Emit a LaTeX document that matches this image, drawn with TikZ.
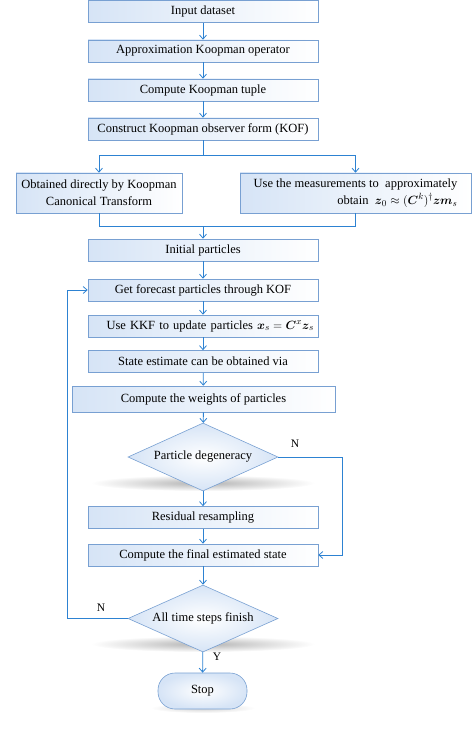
\documentclass[tikz,border=0pt]{standalone}
\usepackage{amsmath,amssymb}
\usepackage{fontspec}
\setmainfont{Liberation Serif}
\usetikzlibrary{shapes.geometric,arrows.meta}
\definecolor{boxline}{RGB}{120,160,210}
\definecolor{boxfill}{RGB}{214,228,246}
\definecolor{flowline}{RGB}{45,130,210}
\tikzset{
  stepbox/.style={draw=boxline, line width=0.6pt, left color=boxfill, right color=white,
    minimum width=230pt, minimum height=22pt, inner sep=2pt, font=\fontsize{12.5}{16}\selectfont},
  testbox/.style={diamond, aspect=2.2, draw=boxline, line width=0.6pt, inner color=white, outer color=boxfill,
    minimum width=150pt, minimum height=68pt, inner sep=0pt, font=\fontsize{12.5}{14.5}\selectfont},
  flow/.style={draw=flowline, line width=0.8pt},
  flowarrow/.style={flow, -{Straight Barb[length=4pt,width=7pt]}},
}
\begin{document}
\begin{tikzpicture}[x=1pt,y=-1pt]
                \useasboundingbox (0,0) rectangle (474,735);
                % 主流程框
                \node[stepbox] (in) at (203,11.5) {Input dataset};
                \node[stepbox] (approx) at (203,51) {Approximation Koopman operator};
                \node[stepbox] (tuple) at (203,90) {Compute Koopman tuple};
                \node[stepbox] (kof) at (203,129) {Construct Koopman observer form (KOF)};
                \node[stepbox, minimum width=166pt, minimum height=40pt, align=center] (direct) at (99,193)
                    {Obtained directly by Koopman\\[1pt]Canonical Transform};
                \node[stepbox, minimum width=231pt, minimum height=40pt, align=right] (meas) at (355.5,193)
                    {Use the measurements to\ \ approximately\\[1pt]obtain\ \ $\boldsymbol{z}_0\approx(\boldsymbol{C}^{k})^{\dagger}\boldsymbol{zm}_s$};
                \node[stepbox] (init) at (203,250) {Initial particles};
                \node[stepbox] (fore) at (203,290) {Get forecast particles through KOF};
                \node[stepbox, align=right, text width=222pt] (kkf) at (203,326)
                    {Use KKF to update particles $\boldsymbol{x}_s\!=\!\boldsymbol{C}^{x}\boldsymbol{z}_s$};
                \node[stepbox] (est) at (203,361.5) {State estimate can be obtained via};
                \node[stepbox, minimum width=263pt, minimum height=26pt] (wts) at (203.5,399) {Compute the weights of particles};
                % 判断框的阴影
                \shade[inner color=black!30, outer color=white] (203,483) ellipse (112 and 8);
                \shade[inner color=black!30, outer color=white] (203,644) ellipse (112 and 8);
                \shade[inner color=black!18, outer color=white] (203,708) ellipse (52 and 5);
                \node[testbox] (deg) at (203,457) {Particle degeneracy};
                \node[stepbox] (res) at (203,517.5) {Residual resampling};
                \node[stepbox] (fin) at (203,555) {Compute the final estimated state};
                \node[testbox, minimum height=67pt] (done) at (203,618.5) {All time steps finish};
                \node[draw=boxline, line width=0.6pt, rounded corners=17pt, inner color=white, outer color=boxfill,
                    minimum width=89pt, minimum height=36pt, font=\fontsize{12.5}{14.5}\selectfont] (stop) at (202.5,691) {Stop};
                % 绘制箭头
                \draw[flowarrow] (in) -- (approx);
                \draw[flowarrow] (approx) -- (tuple);
                \draw[flowarrow] (tuple) -- (kof);
                \coordinate (split) at (203,155);
                \coordinate (join) at (203,226.5);
                \draw[flow] (kof) -- (split);
                \draw[flowarrow] (split) -| (direct);
                \draw[flowarrow] (split) -| (meas);
                \draw[flow] (direct) |- (join);
                \draw[flow] (meas) |- (join);
                \draw[flowarrow] (join) -- (init);
                \draw[flowarrow] (init) -- (fore);
                \draw[flowarrow] (fore) -- (kkf);
                \draw[flowarrow] (kkf) -- (est);
                \draw[flowarrow] (est) -- (wts);
                \draw[flowarrow] (wts) -- (deg);
                \draw[flowarrow] (deg) -- (res);
                \draw[flowarrow] (res) -- (fin);
                \draw[flowarrow] (fin) -- (done);
                \draw[flowarrow] (done) -- (stop);
                % 绘制回路
                \draw[flowarrow] (deg.east) -- ++(64,0) |- (fin.east);
                \draw[flowarrow] (done.west) -- ++(-60,0) |- (fore.west);
                % 标记分支
                \node[font=\fontsize{11.5}{13}\selectfont] (degno) at (295,444) {N};
                \node[font=\fontsize{11.5}{13}\selectfont] (doneno) at (101,608) {N};
                \node[font=\fontsize{11.5}{13}\selectfont] (doneyes) at (217,657) {Y};
            \end{tikzpicture}
\end{document}
